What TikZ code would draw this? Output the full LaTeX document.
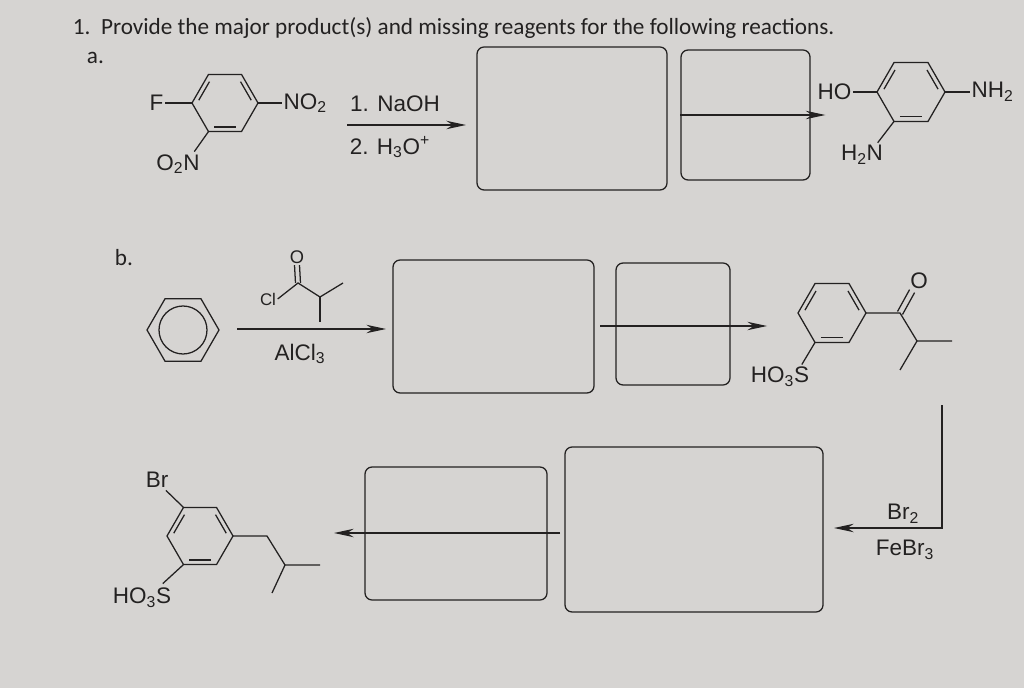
\documentclass[tikz,border=0pt]{standalone}
\usepackage{fontspec}
\setmainfont{Liberation Sans}
\newfontfamily\titlefont{Carlito}
\usetikzlibrary{calc,arrows.meta}
\definecolor{paper}{RGB}{214,212,210}
\definecolor{ink}{RGB}{35,33,33}
\tikzset{
  bond/.style={draw=ink,line width=0.9pt},
  lbl/.style={text=ink,font=\fontsize{16}{18}\selectfont,inner sep=1pt},
  rxn/.style={draw=ink,line width=0.9pt,-{Stealth[length=14pt,width=6pt]}},
  answer/.style={draw=ink,line width=0.9pt,rounded corners=5pt},
}
\newcommand\hexring[4]{%
  \coordinate (#1) at (#2,#3);
  \foreach \a in {0,60,...,300}{\coordinate (#1-\a) at ($(#1)+(\a:#4)$);}
  \draw[bond] (#1-0)--(#1-60)--(#1-120)--(#1-180)--(#1-240)--(#1-300)--cycle;
  \foreach \p/\q in {240/180,0/-60,120/60}{
    \pgfmathsetmacro\ua{\p+0.1*(\q-\p)}
    \pgfmathsetmacro\va{\q-0.1*(\q-\p)}
    \pgfmathsetmacro\rr{0.8*#4}
    \draw[bond] ($(#1)+(\ua:\rr)$) -- ($(#1)+(\va:\rr)$);}
}
\begin{document}
\begin{tikzpicture}[x=0.025cm,y=-0.025cm]
\fill[paper] (0,0) rectangle (1024,688);
\useasboundingbox (0,0) rectangle (1024,688);
\node[anchor=west,text=ink,font=\titlefont\fontsize{16.5}{18}\selectfont] (title) at (68,28) {1.\ \ Provide the major product(s) and missing reagents for the following reactions.};
\node[anchor=west,text=ink,font=\titlefont\fontsize{16.5}{18}\selectfont] (parta) at (82,58) {a.};
\node[anchor=west,text=ink,font=\titlefont\fontsize{16.5}{18}\selectfont] (partb) at (110,258) {b.};

% ---- a: starting material
\hexring{a}{225}{103}{33}
\node[lbl,anchor=east] (F) at (165,103) {F};
\draw[bond] (a-180) -- (F.east);
\node[lbl,anchor=west] (no2) at (282,103) {NO\textsubscript{2}};
\draw[bond] (a-0) -- (no2.west);
\node[lbl] (o2n) at (178,164) {O\textsubscript{2}N};
\draw[bond] (a-120) -- ($(o2n.north east)+(-7,-1)$);
\coordinate (a1s) at (347,125); \coordinate (a1e) at (466,125);
\draw[rxn] (a1s) -- (a1e);
\node[lbl] (naoh) at (395,104) {1. NaOH};
\node[lbl] (h3o) at (390,147) {2. H\textsubscript{3}O\textsuperscript{+}};
\node[answer,minimum width=190*0.025cm,minimum height=143*0.025cm] (boxA1) at (572,118.5) {};
\node[answer,minimum width=129*0.025cm,minimum height=130*0.025cm] (boxA2) at (745.5,115) {};
\draw[rxn] (boxA2.west) -- ++(145,0) coordinate (a2e);

% ---- a: product
\hexring{p}{911}{92}{34}
\node[lbl,anchor=east] (HO) at (853,92) {HO};
\draw[bond] (p-180) -- (HO.east);
\node[lbl,anchor=west] (nh2) at (970,92) {NH\textsubscript{2}};
\draw[bond] (p-0) -- (nh2.west);
\node[lbl] (h2n) at (862,155) {H\textsubscript{2}N};
\draw[bond] (p-120) -- ($(h2n.north east)+(-7,-1)$);

% ---- b: benzene
\coordinate (bz) at (183,330);
\foreach \a in {0,60,...,300}{\coordinate (bz-\a) at ($(bz)+(\a:36)$);}
\draw[bond] (bz-0)--(bz-60)--(bz-120)--(bz-180)--(bz-240)--(bz-300)--cycle;
\draw[bond] (bz) circle[radius=24*0.025cm];

% acyl chloride
\node[text=ink,font=\fontsize{12}{14}\selectfont,inner sep=1pt] (Cl) at (268,299) {Cl};
\coordinate (cc) at (298,283);
\node[text=ink,font=\fontsize{13}{15}\selectfont,inner sep=1pt] (O1) at (297,257) {O};
\coordinate (ch) at (320,297);
\coordinate (me1) at (343,283);
\coordinate (me2) at (320,322);
\draw[bond] (Cl.east) -- (cc) -- (ch) -- (me1);
\draw[bond] (ch) -- (me2);
\draw[bond] ($(cc)+(-2.5,0)$) -- ($(O1.south)+(-2.5,0)$);
\draw[bond] ($(cc)+(2.5,0)$) -- ($(O1.south)+(2.5,0)$);
\coordinate (b1s) at (237,329); \coordinate (b1e) at (386,329);
\draw[rxn] (b1s) -- (b1e);
\node[lbl] (alcl) at (300,354) {AlCl\textsubscript{3}};
\node[answer,minimum width=201*0.025cm,minimum height=133*0.025cm] (boxB1) at (493.5,326.5) {};
\node[answer,minimum width=114*0.025cm,minimum height=122*0.025cm] (boxB2) at (673,324) {};
\coordinate (b2s) at (600,326);
\coordinate (b2e) at (767,326);
\draw[rxn] (b2s) -- (b2e);

% ---- b: ketone product
\hexring{k}{832}{313}{34}
\coordinate (kc) at (900,313);
\node[text=ink,font=\fontsize{16}{18}\selectfont,inner sep=1pt] (O2) at (919,281) {O};
\coordinate (kch) at (917,341);
\coordinate (km1) at (952,341);
\coordinate (km2) at (900,370);
\draw[bond] (k-0) -- (kc) -- (kch) -- (km1);
\draw[bond] (kch) -- (km2);
\draw[bond] ($(kc)+(-2.5,-1.5)$) -- ($(O2.south west)+(1,-1)$);
\draw[bond] ($(kc)+(2.5,1.5)$) -- ($(O2.south west)+(6,2)$);
\node[lbl] (ho3s1) at (780,377) {HO\textsubscript{3}S};
\draw[bond] (k-120) -- ($(ho3s1.north east)+(-9,-1)$);

% Br2 arrow
\coordinate (v1) at (942,405);
\coordinate (v2) at (942,528);
\coordinate (v3) at (834,528);
\draw[rxn] (v1) -- (v2) -- (v3);
\node[lbl] (br2) at (903,514) {Br\textsubscript{2}};
\node[lbl] (febr) at (905,550) {FeBr\textsubscript{3}};

\node[answer,minimum width=258*0.025cm,minimum height=165*0.025cm] (boxB3) at (694,529.5) {};
\node[answer,minimum width=182*0.025cm,minimum height=133*0.025cm] (boxB4) at (456,533.5) {};
\coordinate (b4s) at (560,533);
\coordinate (b4e) at (334,533);
\draw[rxn] (b4s) -- (b4e);

% ---- b: final product
\hexring{f}{200}{536}{33}
\node[lbl] (Br) at (157,480) {Br};
\draw[bond] (f-240) -- ($(Br.south east)+(-4,1)$);
\node[lbl] (ho3s2) at (142,598) {HO\textsubscript{3}S};
\draw[bond] (f-120) -- ($(ho3s2.north east)+(-10,-3)$);
\coordinate (ib1) at (267,536);
\coordinate (ib2) at (285,565);
\coordinate (ib3) at (320,565);
\coordinate (ib4) at (272,593);
\draw[bond] (f-0) -- (ib1) -- (ib2) -- (ib3);
\draw[bond] (ib2) -- (ib4);
\end{tikzpicture}
\end{document}
